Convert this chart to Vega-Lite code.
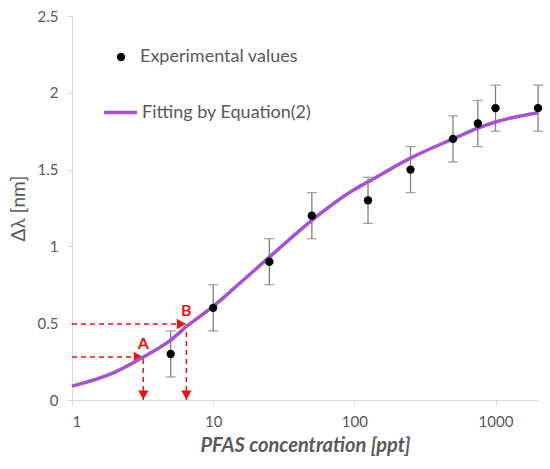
{
  "$schema": "https://vega.github.io/schema/vega-lite/v6.json",
  "width": 466,
  "height": 384,
  "autosize": "none",
  "padding": {"left": 72, "top": 16, "right": 12, "bottom": 69},
  "datasets": {
    "measured": [
      {"conc": 5, "shift": 0.3, "lo": 0.15, "hi": 0.45, "series": "Experimental values"},
      {"conc": 10, "shift": 0.6, "lo": 0.45, "hi": 0.75, "series": "Experimental values"},
      {"conc": 25, "shift": 0.9, "lo": 0.75, "hi": 1.05, "series": "Experimental values"},
      {"conc": 50, "shift": 1.2, "lo": 1.05, "hi": 1.35, "series": "Experimental values"},
      {"conc": 125, "shift": 1.3, "lo": 1.15, "hi": 1.45, "series": "Experimental values"},
      {"conc": 250, "shift": 1.5, "lo": 1.35, "hi": 1.65, "series": "Experimental values"},
      {"conc": 500, "shift": 1.7, "lo": 1.55, "hi": 1.85, "series": "Experimental values"},
      {"conc": 750, "shift": 1.8, "lo": 1.65, "hi": 1.95, "series": "Experimental values"},
      {"conc": 1000, "shift": 1.9, "lo": 1.75, "hi": 2.05, "series": "Experimental values"},
      {"conc": 2000, "shift": 1.9, "lo": 1.75, "hi": 2.05, "series": "Experimental values"}
    ],
    "fit": [
      {"conc": 1, "shift": 0.09, "series": "Fitting by Equation(2)"},
      {"conc": 2, "shift": 0.18, "series": "Fitting by Equation(2)"},
      {"conc": 3.2, "shift": 0.28, "series": "Fitting by Equation(2)"},
      {"conc": 5, "shift": 0.39, "series": "Fitting by Equation(2)"},
      {"conc": 6.5, "shift": 0.48, "series": "Fitting by Equation(2)"},
      {"conc": 10, "shift": 0.61, "series": "Fitting by Equation(2)"},
      {"conc": 15, "shift": 0.75, "series": "Fitting by Equation(2)"},
      {"conc": 25, "shift": 0.93, "series": "Fitting by Equation(2)"},
      {"conc": 50, "shift": 1.17, "series": "Fitting by Equation(2)"},
      {"conc": 100, "shift": 1.37, "series": "Fitting by Equation(2)"},
      {"conc": 125, "shift": 1.42, "series": "Fitting by Equation(2)"},
      {"conc": 250, "shift": 1.575, "series": "Fitting by Equation(2)"},
      {"conc": 500, "shift": 1.7, "series": "Fitting by Equation(2)"},
      {"conc": 750, "shift": 1.77, "series": "Fitting by Equation(2)"},
      {"conc": 1000, "shift": 1.81, "series": "Fitting by Equation(2)"},
      {"conc": 2000, "shift": 1.87, "series": "Fitting by Equation(2)"}
    ],
    "marks": [
      {"label": "A", "conc": 3.2, "shift": 0.28},
      {"label": "B", "conc": 6.46, "shift": 0.495}
    ]
  },
  "encoding": {
    "x": {
      "field": "conc",
      "type": "quantitative",
      "scale": {"type": "log", "domain": [1, 2000], "nice": false},
      "axis": {
        "title": "PFAS concentration [ppt]",
        "values": [1, 10, 100, 1000],
        "format": "~g",
        "titleFontStyle": "italic",
        "titleFontWeight": "bold",
        "titleFontSize": 20,
        "titlePadding": 6
      }
    },
    "y": {
      "field": "shift",
      "type": "quantitative",
      "scale": {"domain": [0, 2.5], "nice": false},
      "axis": {
        "title": "Δλ [nm]",
        "values": [0, 0.5, 1, 1.5, 2, 2.5],
        "format": "~g",
        "titleFontWeight": "normal",
        "titleFontSize": 19,
        "titlePadding": 9
      }
    }
  },
  "layer": [
    {
      "data": {"name": "marks"},
      "mark": {"type": "rule", "color": "#ee1111", "strokeWidth": 1.5, "strokeDash": [5, 4]},
      "encoding": {
        "x": {"datum": 1, "type": "quantitative"},
        "x2": {"field": "conc"},
        "y": {"field": "shift", "type": "quantitative"}
      }
    },
    {
      "data": {"name": "marks"},
      "mark": {"type": "rule", "color": "#ee1111", "strokeWidth": 1.5, "strokeDash": [5, 4]},
      "encoding": {
        "y": {"datum": 0, "type": "quantitative"},
        "y2": {"field": "shift"}
      }
    },
    {
      "data": {"name": "marks"},
      "mark": {"type": "point", "shape": "triangle-right", "filled": true, "color": "#ee1111", "size": 110, "opacity": 1, "xOffset": -5}
    },
    {
      "data": {"name": "marks"},
      "mark": {"type": "point", "shape": "triangle-down", "filled": true, "color": "#ee1111", "size": 110, "opacity": 1, "yOffset": -5},
      "encoding": {"y": {"datum": 0, "type": "quantitative"}}
    },
    {
      "data": {"name": "marks"},
      "mark": {"type": "text", "color": "#ee1111", "fontWeight": "bold", "fontSize": 16, "font": "Lato", "dy": -13},
      "encoding": {"text": {"field": "label"}}
    },
    {
      "data": {"name": "measured"},
      "mark": {"type": "errorbar", "ticks": {"size": 10, "color": "#808080"}, "rule": {"color": "#808080"}, "thickness": 1.3},
      "encoding": {
        "y": {"field": "lo", "type": "quantitative"},
        "y2": {"field": "hi"}
      }
    },
    {
      "data": {"name": "fit"},
      "mark": {"type": "line", "interpolate": "monotone", "strokeWidth": 3.5},
      "encoding": {
        "stroke": {
          "field": "series",
          "type": "nominal",
          "scale": {"range": ["#a650d8"]},
          "legend": {
            "title": null,
            "orient": "none",
            "legendX": 30,
            "legendY": 78,
            "symbolType": "stroke",
            "symbolSize": 1089,
            "symbolStrokeWidth": 3.5,
            "labelOffset": 3
          }
        }
      }
    },
    {
      "data": {"name": "measured"},
      "mark": {"type": "point", "filled": true, "size": 70, "opacity": 1},
      "encoding": {
        "fill": {
          "field": "series",
          "type": "nominal",
          "scale": {"range": ["black"]},
          "legend": {
            "title": null,
            "orient": "none",
            "legendX": 40,
            "legendY": 32,
            "symbolType": "circle",
            "symbolSize": 70,
            "labelOffset": 10
          }
        }
      }
    }
  ],
  "config": {
    "font": "Lato",
    "view": {"stroke": null},
    "axis": {
      "grid": false,
      "domainColor": "#d9d9d9",
      "tickColor": "#d9d9d9",
      "tickSize": 5,
      "labelColor": "#595959",
      "titleColor": "#595959",
      "labelFontSize": 15,
      "labelPadding": 9,
      "labelFont": "Lato",
      "titleFont": "Lato"
    },
    "axisY": {"labelPadding": 9},
    "legend": {
      "labelFontSize": 18,
      "labelLimit": 300,
      "labelColor": "#595959",
      "labelFont": "Lato"
    }
  }
}
